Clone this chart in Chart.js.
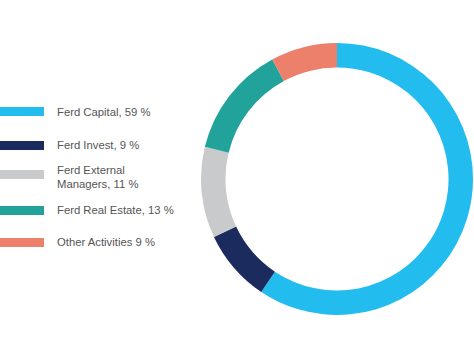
<!DOCTYPE html>
<html>
<head>
<meta charset="utf-8">
<script src="https://cdn.jsdelivr.net/npm/chart.js@4.4.0/dist/chart.umd.min.js"></script>
<style>
  html, body { margin: 0; padding: 0; background: #fff; }
  body { width: 474px; height: 354px; position: relative; overflow: hidden; font-family: "Liberation Sans", Arial, sans-serif; }
  #chart { position: absolute; left: 201px; top: 43px; }
  .swatch { position: absolute; left: 0; width: 44px; height: 9px; }
  .label { position: absolute; left: 57px; font-size: 11.3px; line-height: 14px; color: #555; white-space: nowrap; }
</style>
</head>
<body>
<canvas id="chart" width="272" height="272"></canvas>
<div id="legend"></div>
<script>
// shares (degrees / 3.6)
const categories = ['Ferd Capital', 'Ferd Invest', 'Ferd External Managers', 'Ferd Real Estate', 'Other Activities'];
const shares = [59.4, 8.6, 10.8, 13.3, 7.9];
// legend text as printed in the picture
const legendLines = [
  ['Ferd Capital, 59 %'],
  ['Ferd Invest, 9 %'],
  ['Ferd External', 'Managers, 11 %'],
  ['Ferd Real Estate, 13 %'],
  ['Other Activities 9 %']
];
const colors = ['#22bcee', '#1b2b5d', '#c8cacb', '#21a39c', '#ec806b'];

// y centre of each legend swatch
const legendY = [111.7, 145, 174, 210, 242];

const legend = document.getElementById('legend');
legendLines.forEach((lines, i) => {
  const sw = document.createElement('div');
  sw.className = 'swatch';
  sw.style.top = (legendY[i] - 4.5) + 'px';
  sw.style.background = colors[i];
  legend.appendChild(sw);

  const lab = document.createElement('div');
  lab.className = 'label';
  lab.style.top = (legendY[i] - 7 - (lines.length > 1 ? 4 : 0)) + 'px';
  lab.innerHTML = lines.join('<br>');
  legend.appendChild(lab);
});

new Chart(document.getElementById('chart'), {
  type: 'doughnut',
  data: {
    labels: categories,
    datasets: [{
      data: shares,
      backgroundColor: colors,
      borderWidth: 0
    }]
  },
  options: {
    responsive: false,
    animation: false,
    cutout: '82%',
    layout: { padding: 0 },
    plugins: {
      legend: { display: false },
      tooltip: { enabled: false }
    }
  }
});
</script>
</body>
</html>
